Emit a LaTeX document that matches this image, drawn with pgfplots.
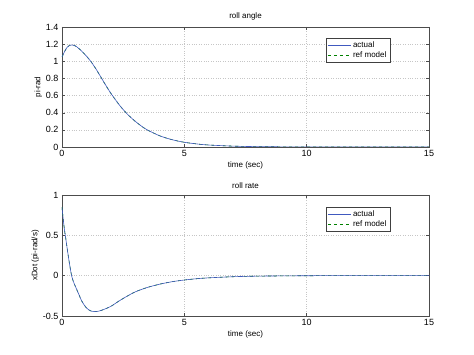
\documentclass[border=0pt]{standalone}
\usepackage{fontspec}
\setmainfont{Liberation Sans}
\usepackage{pgfplots}
\pgfplotsset{compat=1.18}
\definecolor{actualc}{rgb}{0.25,0.35,0.75}
\definecolor{refc}{rgb}{0,0.5,0}
\pgfplotsset{
  mystyle/.style={
    scale only axis, width=367pt, height=120pt, anchor=south west,
    xmin=0, xmax=15, xtick={0,5,10,15},
    grid=major, major grid style={dotted, gray!45, line width=0.5pt},
    axis line style={black!70, line width=0.6pt},
    tick style={black!70, line width=0.4pt},
    tick align=inside, major tick length=3pt,
    xtick pos=both, ytick pos=both,
    xticklabel pos=lower, yticklabel pos=left,
    tick label style={font=\fontsize{9}{10}\selectfont},
    label style={font=\fontsize{8}{9}\selectfont},
    title style={font=\fontsize{8}{9}\selectfont, yshift=-3pt},
    /pgf/number format/assume math mode=true,
    /pgf/number format/fixed,
    xlabel={time (sec)},
    xlabel style={yshift=2pt},
    ylabel style={yshift=-3pt},
    reverse legend,
    legend style={font=\fontsize{8}{9}\selectfont, draw=black!75, line width=0.4pt,
      inner sep=1.5pt, row sep=-1.5pt, cells={anchor=west}},
    legend image code/.code={\draw[#1] (0cm,0cm) -- (0.8cm,0cm);},
  }
}
\pgfplotstableread{
t v
0 1.05
0.1 1.11
0.2 1.16
0.3 1.185
0.4 1.19
0.5 1.185
0.6 1.17
0.8 1.12
1.0 1.06
1.2 0.99
1.4 0.905
1.6 0.81
1.8 0.715
2.0 0.625
2.2 0.545
2.4 0.47
2.6 0.405
2.8 0.348
3.0 0.298
3.25 0.243
3.5 0.197
4.0 0.13
4.5 0.085
5.0 0.055
5.5 0.036
6 0.023
7 0.01
8 0.004
9 0.002
10 0.001
12 0
15 0
}\anglet
\pgfplotstableread{
t v
0 0.85
0.05 0.70
0.1 0.57
0.15 0.47
0.2 0.36
0.3 0.16
0.4 -0.01
0.5 -0.10
0.6 -0.17
0.7 -0.24
0.8 -0.31
0.9 -0.36
1.0 -0.40
1.1 -0.425
1.2 -0.44
1.35 -0.446
1.5 -0.44
1.7 -0.42
2.0 -0.38
2.3 -0.32
2.6 -0.265
3.0 -0.20
3.5 -0.145
4.0 -0.105
4.5 -0.075
5.0 -0.054
5.5 -0.038
6 -0.027
7 -0.013
8 -0.006
9 -0.003
10 -0.001
11 0
15 0
}\ratet
\begin{document}
\begin{tikzpicture}
\useasboundingbox (0,0) rectangle (474pt,355pt);
\begin{axis}[mystyle, at={(62pt,208pt)},
  ymin=0, ymax=1.4, ytick={0,0.2,...,1.4},
  yticklabels={0,0.2,0.4,0.6,0.8,1,1.2,1.4},
  title={roll angle}, ylabel={pi{-}rad},
  legend style={at={(0.894,0.908)}, anchor=north east}]
\addplot[refc, dashed, line width=0.6pt, smooth] table[x=t,y=v] {\anglet};
\addplot[actualc, line width=0.6pt, smooth] table[x=t,y=v] {\anglet};
\legend{ref model, actual}
\end{axis}
\begin{axis}[mystyle, at={(62pt,39pt)}, height=121pt,
  ymin=-0.5, ymax=1, ytick={-0.5,0,0.5,1},
  yticklabels={-0.5,0,0.5,1},
  title={roll rate}, ylabel={xDot (pi{-}rad/s)},
  legend style={at={(0.894,0.901)}, anchor=north east}]
\addplot[refc, dashed, line width=0.6pt, smooth] table[x=t,y=v] {\ratet};
\addplot[actualc, line width=0.6pt, smooth] table[x=t,y=v] {\ratet};
\legend{ref model, actual}
\end{axis}
\end{tikzpicture}
\end{document}
